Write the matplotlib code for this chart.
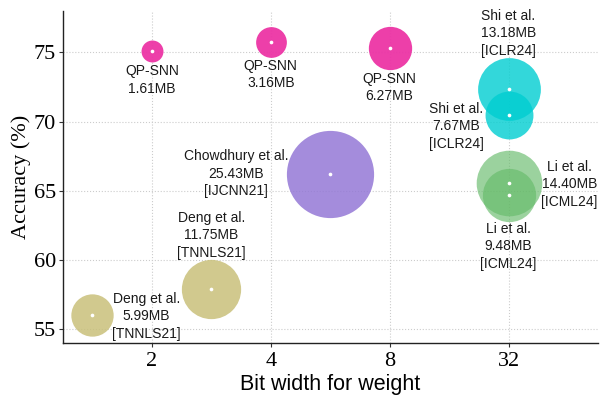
import matplotlib
matplotlib.use("Agg")
import matplotlib.pyplot as plt

# ---- data ----
methods = ["Deng et al.", "Deng et al.", "QP-SNN", "QP-SNN", "QP-SNN",
           "Chowdhury et al.", "Shi et al.", "Shi et al.", "Li et al.", "Li et al."]
venues = ["[TNNLS21]", "[TNNLS21]", "", "", "",
          "[IJCNN21]", "[ICLR24]", "[ICLR24]", "[ICML24]", "[ICML24]"]
sizes_mb = [5.99, 11.75, 1.61, 3.16, 6.27, 25.43, 13.18, 7.67, 14.40, 9.48]
accuracy = [55.97, 57.88, 75.12, 75.77, 75.30, 66.22, 72.35, 70.47, 65.55, 64.70]
x_pos = [0.5, 1.5, 1, 2, 3, 2.5, 4, 4, 4, 4]
tick_pos = [1, 2, 3, 4]
tick_labels = ["2", "4", "8", "32"]

# ---- style / layout ----
colors = ["#C9C07A", "#C9C07A", "#EC34A5", "#EC34A5", "#EC34A5",
          "#9478D6", "#00CED1", "#00CED1", "#66BB6A", "#66BB6A"]
alphas = [0.85, 0.85, 0.95, 0.95, 0.95, 0.85, 0.8, 0.8, 0.65, 0.65]
# label offsets in pixels (dx right, dy down) from circle centre
offsets_px = [(54, 1), (0, -54), (0, 29), (0, 32.5), (0, 39),
              (-94, 0), (0, -56), (-52, 11), (61, 1), (0, 51.5)]

W, H = 606, 395
fig = plt.figure(figsize=(W / 100, H / 100), dpi=100)
ax = fig.add_axes([62.7 / W, 1 - 342.7 / H, (597.7 - 62.7) / W, (342.7 - 11) / H])

ax.set_xlim(0.25, 4.75)
ax.set_ylim(54, 78)
ax.grid(True, linestyle=":", color="#cccccc", linewidth=0.8, zorder=0)
ax.set_axisbelow(True)

for i in range(len(methods)):
    ax.scatter(x_pos[i], accuracy[i], s=sizes_mb[i] * 155, color=colors[i],
               alpha=alphas[i], linewidths=0, zorder=2)
    ax.scatter(x_pos[i], accuracy[i], s=7, color="white", linewidths=0, zorder=3)
    lines = [methods[i], f"{sizes_mb[i]:.2f}MB"]
    if venues[i]:
        lines.append(venues[i])
    dx, dy = offsets_px[i]
    ax.annotate("\n".join(lines), (x_pos[i], accuracy[i]),
                xytext=(dx * 0.72, -dy * 0.72), textcoords="offset points",
                ha="center", va="center", fontsize=10,
                family="Liberation Sans", color="#1a1a1a",
                linespacing=1.32, zorder=4)

ax.set_xticks(tick_pos)
ax.set_xticklabels(tick_labels)
ax.set_yticks([55, 60, 65, 70, 75])
for lab in ax.get_xticklabels() + ax.get_yticklabels():
    lab.set_family("Liberation Serif")
    lab.set_fontsize(16)
ax.tick_params(axis="x", length=3, width=0.8, color="#333333", pad=4)
ax.tick_params(axis="y", length=3, width=0.8, color="#333333", pad=2)

ax.set_xlabel("Bit width for weight", fontsize=15.5, family="Liberation Sans", labelpad=2)
ax.set_ylabel("Accuracy (%)", fontsize=16, family="Liberation Serif", labelpad=2)

for s in ["top", "right"]:
    ax.spines[s].set_visible(False)
for s in ["left", "bottom"]:
    ax.spines[s].set_color("#222222")
    ax.spines[s].set_linewidth(1.0)

fig.savefig("out.png", dpi=100)
